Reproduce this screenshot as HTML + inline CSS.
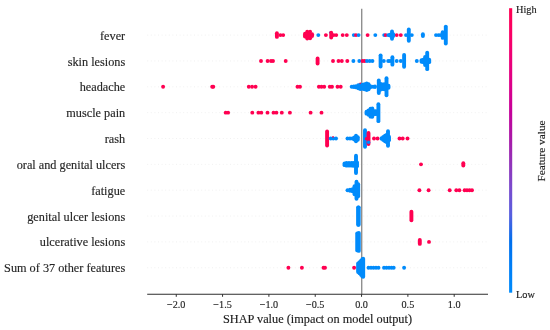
<!DOCTYPE html><html><head><meta charset="utf-8"><title>SHAP summary</title><style>
html,body{margin:0;padding:0;background:#fff}
#fig{position:relative;width:550px;height:330px;overflow:hidden;background:#fff;font-family:"Liberation Serif",serif;color:#1c1c1c;-webkit-text-stroke:0.15px #1c1c1c}
.yl{position:absolute;right:424.8px;white-space:nowrap;font-size:12.25px;line-height:16px;height:16px;color:#262626;-webkit-text-stroke:0.15px #262626}
.xt{position:absolute;width:40px;text-align:center;font-size:10.2px;line-height:12px;top:299.3px;color:#262626;-webkit-text-stroke:0.15px #262626}
.xl{position:absolute;left:147px;width:341px;text-align:center;font-size:12.3px;line-height:16px;top:310.5px;color:#1c1c1c;-webkit-text-stroke:0.15px #1c1c1c}
.cl{position:absolute;left:516px;font-size:10.3px;line-height:12px;color:#1c1c1c;-webkit-text-stroke:0.15px #1c1c1c}
.fv{position:absolute;left:540.6px;top:151.2px;width:0;height:0}
.fv span{position:absolute;white-space:nowrap;font-size:11.3px;line-height:12px;transform:translate(-50%,-50%) rotate(-90deg);color:#1c1c1c;-webkit-text-stroke:0.15px #1c1c1c}
</style></head><body><div id="fig">
<svg width="550" height="330" viewBox="0 0 550 330" style="position:absolute;left:0;top:0">
<defs><linearGradient id="cb" x1="0" y1="1" x2="0" y2="0">
<stop offset="0.0%" stop-color="#008bfb"/>
<stop offset="9.1%" stop-color="#007ef6"/>
<stop offset="18.2%" stop-color="#006fed"/>
<stop offset="27.3%" stop-color="#575fdf"/>
<stop offset="36.4%" stop-color="#794cce"/>
<stop offset="45.5%" stop-color="#9233b9"/>
<stop offset="54.5%" stop-color="#aa17a7"/>
<stop offset="63.6%" stop-color="#c5009a"/>
<stop offset="72.7%" stop-color="#db008a"/>
<stop offset="81.8%" stop-color="#ec0078"/>
<stop offset="90.9%" stop-color="#fa0065"/>
<stop offset="100.0%" stop-color="#ff0051"/>
</linearGradient></defs>
<line x1="147.2" x2="488" y1="35.10" y2="35.10" stroke="#e2e2e2" stroke-width="0.5" stroke-dasharray="1 2.6"/>
<line x1="147.2" x2="488" y1="60.95" y2="60.95" stroke="#e2e2e2" stroke-width="0.5" stroke-dasharray="1 2.6"/>
<line x1="147.2" x2="488" y1="86.80" y2="86.80" stroke="#e2e2e2" stroke-width="0.5" stroke-dasharray="1 2.6"/>
<line x1="147.2" x2="488" y1="112.65" y2="112.65" stroke="#e2e2e2" stroke-width="0.5" stroke-dasharray="1 2.6"/>
<line x1="147.2" x2="488" y1="138.50" y2="138.50" stroke="#e2e2e2" stroke-width="0.5" stroke-dasharray="1 2.6"/>
<line x1="147.2" x2="488" y1="164.35" y2="164.35" stroke="#e2e2e2" stroke-width="0.5" stroke-dasharray="1 2.6"/>
<line x1="147.2" x2="488" y1="190.20" y2="190.20" stroke="#e2e2e2" stroke-width="0.5" stroke-dasharray="1 2.6"/>
<line x1="147.2" x2="488" y1="216.05" y2="216.05" stroke="#e2e2e2" stroke-width="0.5" stroke-dasharray="1 2.6"/>
<line x1="147.2" x2="488" y1="241.90" y2="241.90" stroke="#e2e2e2" stroke-width="0.5" stroke-dasharray="1 2.6"/>
<line x1="147.2" x2="488" y1="267.75" y2="267.75" stroke="#e2e2e2" stroke-width="0.5" stroke-dasharray="1 2.6"/>
<line x1="361.70" x2="361.70" y1="8.7" y2="294.20" stroke="#8f8f8f" stroke-width="1.4"/>
<g stroke-linecap="round" stroke-width="3.90">
<line x1="276.9" x2="276.9" y1="33.30" y2="36.90" stroke="#ff0051"/>
<circle cx="280.4" cy="35.10" r="1.95" fill="#ff0051"/>
<circle cx="283.2" cy="35.10" r="1.95" fill="#ff0051"/>
<line x1="305.0" x2="305.0" y1="33.70" y2="36.50" stroke="#ff0051"/>
<circle cx="307.2" cy="31.70" r="1.95" fill="#ff0051"/>
<circle cx="307.2" cy="35.10" r="1.95" fill="#ff0051"/>
<circle cx="307.2" cy="38.50" r="1.95" fill="#ff0051"/>
<circle cx="310.1" cy="31.70" r="1.95" fill="#ff0051"/>
<circle cx="310.1" cy="35.10" r="1.95" fill="#ff0051"/>
<circle cx="310.1" cy="38.30" r="1.95" fill="#ff0051"/>
<line x1="308.6" x2="308.6" y1="33.10" y2="37.10" stroke="#ff0051"/>
<line x1="312.1" x2="312.1" y1="34.20" y2="36.00" stroke="#ff0051"/>
<circle cx="318.3" cy="35.10" r="1.95" fill="#008bfb"/>
<circle cx="325.9" cy="35.10" r="1.95" fill="#ff0051"/>
<circle cx="329.9" cy="32.50" r="1.00" fill="#008bfb"/>
<line x1="331.2" x2="331.2" y1="32.70" y2="37.50" stroke="#ff0051"/>
<circle cx="333.6" cy="35.10" r="1.95" fill="#ff0051"/>
<circle cx="336.2" cy="35.10" r="1.95" fill="#ff0051"/>
<circle cx="342.7" cy="35.10" r="1.95" fill="#ff0051"/>
<circle cx="346.8" cy="35.10" r="1.95" fill="#ff0051"/>
<circle cx="353.8" cy="35.10" r="1.95" fill="#008bfb"/>
<circle cx="356.0" cy="35.10" r="1.95" fill="#ff0051"/>
<circle cx="358.6" cy="35.10" r="1.95" fill="#008bfb"/>
<circle cx="367.6" cy="35.10" r="1.95" fill="#ff0051"/>
<circle cx="375.3" cy="35.10" r="1.95" fill="#008bfb"/>
<circle cx="384.2" cy="35.10" r="1.95" fill="#008bfb"/>
<circle cx="385.8" cy="35.10" r="1.95" fill="#ff0051"/>
<circle cx="388.3" cy="35.10" r="1.95" fill="#008bfb"/>
<line x1="390.0" x2="390.0" y1="34.60" y2="35.60" stroke="#008bfb"/>
<circle cx="396.7" cy="35.10" r="1.95" fill="#ff0051"/>
<circle cx="400.8" cy="35.10" r="1.95" fill="#ff0051"/>
<line x1="392.0" x2="392.0" y1="31.50" y2="38.70" stroke="#008bfb"/>
<line x1="393.2" x2="393.2" y1="34.10" y2="36.10" stroke="#008bfb"/>
<circle cx="406.0" cy="35.10" r="1.95" fill="#008bfb"/>
<line x1="408.8" x2="408.8" y1="29.50" y2="40.70" stroke="#008bfb"/>
<circle cx="411.8" cy="35.10" r="1.95" fill="#008bfb"/>
<line x1="422.9" x2="422.9" y1="34.20" y2="36.00" stroke="#008bfb"/>
<circle cx="436.0" cy="35.10" r="1.95" fill="#008bfb"/>
<circle cx="438.5" cy="35.10" r="1.95" fill="#008bfb"/>
<circle cx="440.5" cy="35.10" r="1.95" fill="#008bfb"/>
<line x1="442.7" x2="442.7" y1="32.30" y2="37.90" stroke="#008bfb"/>
<line x1="445.8" x2="445.8" y1="26.60" y2="43.60" stroke="#008bfb"/>
</g>
<g stroke-linecap="round" stroke-width="3.90">
<circle cx="261.0" cy="60.95" r="1.95" fill="#ff0051"/>
<circle cx="267.6" cy="60.95" r="1.95" fill="#ff0051"/>
<circle cx="271.0" cy="60.95" r="1.95" fill="#ff0051"/>
<circle cx="273.0" cy="60.95" r="1.95" fill="#ff0051"/>
<circle cx="285.7" cy="60.95" r="1.95" fill="#ff0051"/>
<line x1="317.6" x2="317.6" y1="58.45" y2="63.45" stroke="#ff0051"/>
<circle cx="333.0" cy="60.95" r="1.95" fill="#ff0051"/>
<circle cx="338.5" cy="60.95" r="1.95" fill="#ff0051"/>
<circle cx="341.8" cy="60.95" r="1.95" fill="#ff0051"/>
<circle cx="347.3" cy="60.95" r="1.95" fill="#ff0051"/>
<circle cx="353.4" cy="60.95" r="1.95" fill="#008bfb"/>
<circle cx="359.3" cy="60.95" r="1.95" fill="#008bfb"/>
<circle cx="362.5" cy="60.95" r="1.95" fill="#ff0051"/>
<circle cx="364.7" cy="60.95" r="1.95" fill="#ff0051"/>
<circle cx="367.0" cy="60.95" r="1.95" fill="#008bfb"/>
<circle cx="369.7" cy="60.95" r="1.95" fill="#008bfb"/>
<circle cx="372.4" cy="60.95" r="1.95" fill="#008bfb"/>
<line x1="380.6" x2="380.6" y1="55.35" y2="66.55" stroke="#008bfb"/>
<circle cx="383.8" cy="60.95" r="1.95" fill="#008bfb"/>
<circle cx="388.2" cy="60.95" r="1.95" fill="#008bfb"/>
<circle cx="390.0" cy="60.95" r="1.95" fill="#008bfb"/>
<line x1="392.4" x2="392.4" y1="57.25" y2="64.65" stroke="#008bfb"/>
<circle cx="396.7" cy="60.95" r="1.95" fill="#008bfb"/>
<circle cx="400.8" cy="60.95" r="1.95" fill="#008bfb"/>
<line x1="404.1" x2="404.1" y1="55.05" y2="66.85" stroke="#008bfb"/>
<circle cx="416.8" cy="60.95" r="1.95" fill="#008bfb"/>
<line x1="421.5" x2="421.5" y1="60.15" y2="61.75" stroke="#008bfb"/>
<line x1="423.3" x2="423.3" y1="59.75" y2="62.15" stroke="#008bfb"/>
<line x1="425.1" x2="425.1" y1="56.95" y2="64.95" stroke="#008bfb"/>
<line x1="427.2" x2="427.2" y1="52.75" y2="69.15" stroke="#008bfb"/>
<line x1="429.2" x2="429.2" y1="59.75" y2="62.15" stroke="#008bfb"/>
</g>
<g stroke-linecap="round" stroke-width="3.90">
<circle cx="163.1" cy="86.80" r="1.95" fill="#ff0051"/>
<circle cx="212.2" cy="86.80" r="1.95" fill="#ff0051"/>
<circle cx="213.3" cy="86.80" r="1.95" fill="#ff0051"/>
<circle cx="248.8" cy="86.80" r="1.95" fill="#ff0051"/>
<circle cx="252.1" cy="86.80" r="1.95" fill="#ff0051"/>
<circle cx="255.6" cy="86.80" r="1.95" fill="#ff0051"/>
<circle cx="297.5" cy="86.80" r="1.95" fill="#ff0051"/>
<circle cx="300.0" cy="86.80" r="1.95" fill="#ff0051"/>
<circle cx="318.9" cy="86.80" r="1.95" fill="#ff0051"/>
<circle cx="321.5" cy="86.80" r="1.95" fill="#ff0051"/>
<circle cx="324.2" cy="86.80" r="1.95" fill="#ff0051"/>
<circle cx="329.8" cy="86.80" r="1.95" fill="#ff0051"/>
<circle cx="332.0" cy="86.80" r="1.95" fill="#ff0051"/>
<circle cx="337.5" cy="86.80" r="1.95" fill="#ff0051"/>
<circle cx="340.7" cy="86.80" r="1.95" fill="#ff0051"/>
<circle cx="351.7" cy="86.80" r="1.95" fill="#008bfb"/>
<line x1="353.8" x2="353.8" y1="86.50" y2="87.10" stroke="#008bfb"/>
<line x1="356.0" x2="356.0" y1="86.20" y2="87.40" stroke="#008bfb"/>
<line x1="358.3" x2="358.3" y1="85.30" y2="88.30" stroke="#008bfb"/>
<line x1="360.3" x2="360.3" y1="84.60" y2="89.00" stroke="#008bfb"/>
<line x1="362.5" x2="362.5" y1="84.80" y2="88.80" stroke="#008bfb"/>
<line x1="364.5" x2="364.5" y1="84.30" y2="89.30" stroke="#008bfb"/>
<line x1="366.7" x2="366.7" y1="83.50" y2="90.10" stroke="#008bfb"/>
<line x1="368.6" x2="368.6" y1="84.30" y2="89.30" stroke="#008bfb"/>
<line x1="370.3" x2="370.3" y1="86.30" y2="87.30" stroke="#008bfb"/>
<circle cx="373.0" cy="86.80" r="1.95" fill="#008bfb"/>
<line x1="375.0" x2="375.0" y1="86.50" y2="87.10" stroke="#008bfb"/>
<line x1="378.8" x2="378.8" y1="80.50" y2="93.10" stroke="#008bfb"/>
<line x1="380.3" x2="380.3" y1="83.80" y2="89.80" stroke="#008bfb"/>
<line x1="382.5" x2="382.5" y1="84.50" y2="89.10" stroke="#008bfb"/>
<line x1="384.3" x2="384.3" y1="84.30" y2="89.30" stroke="#008bfb"/>
<line x1="386.5" x2="386.5" y1="78.30" y2="95.30" stroke="#008bfb"/>
<line x1="388.5" x2="388.5" y1="85.80" y2="87.80" stroke="#008bfb"/>
<circle cx="360.2" cy="83.20" r="0.80" fill="#ff0051"/>
</g>
<g stroke-linecap="round" stroke-width="3.90">
<circle cx="225.7" cy="112.65" r="1.95" fill="#ff0051"/>
<circle cx="228.1" cy="112.65" r="1.95" fill="#ff0051"/>
<circle cx="252.3" cy="112.65" r="1.95" fill="#ff0051"/>
<circle cx="258.4" cy="112.65" r="1.95" fill="#ff0051"/>
<circle cx="261.3" cy="112.65" r="1.95" fill="#ff0051"/>
<circle cx="267.5" cy="112.65" r="1.95" fill="#ff0051"/>
<circle cx="273.5" cy="112.65" r="1.95" fill="#ff0051"/>
<circle cx="276.4" cy="112.65" r="1.95" fill="#ff0051"/>
<circle cx="281.8" cy="112.65" r="1.95" fill="#ff0051"/>
<circle cx="289.9" cy="112.65" r="1.95" fill="#ff0051"/>
<circle cx="310.6" cy="112.65" r="1.95" fill="#ff0051"/>
<circle cx="321.5" cy="112.65" r="1.95" fill="#ff0051"/>
<line x1="366.5" x2="366.5" y1="111.65" y2="113.65" stroke="#008bfb"/>
<line x1="368.5" x2="368.5" y1="110.45" y2="114.85" stroke="#008bfb"/>
<line x1="370.5" x2="370.5" y1="108.65" y2="116.65" stroke="#008bfb"/>
<line x1="372.3" x2="372.3" y1="108.45" y2="116.85" stroke="#008bfb"/>
<line x1="374.3" x2="374.3" y1="111.15" y2="114.15" stroke="#008bfb"/>
<line x1="376.0" x2="376.0" y1="111.15" y2="114.15" stroke="#008bfb"/>
<line x1="378.4" x2="378.4" y1="104.15" y2="121.15" stroke="#008bfb"/>
</g>
<g stroke-linecap="round" stroke-width="3.90">
<line x1="327.1" x2="327.1" y1="131.40" y2="145.60" stroke="#ff0051"/>
<circle cx="330.7" cy="138.50" r="1.95" fill="#008bfb"/>
<circle cx="333.3" cy="138.50" r="1.95" fill="#008bfb"/>
<circle cx="336.0" cy="138.50" r="1.95" fill="#008bfb"/>
<circle cx="333.0" cy="136.90" r="0.80" fill="#ff0051"/>
<circle cx="347.5" cy="138.50" r="1.95" fill="#008bfb"/>
<circle cx="350.0" cy="138.50" r="1.95" fill="#008bfb"/>
<circle cx="352.3" cy="138.50" r="1.95" fill="#008bfb"/>
<line x1="354.3" x2="354.3" y1="137.50" y2="139.50" stroke="#008bfb"/>
<line x1="356.0" x2="356.0" y1="135.80" y2="141.20" stroke="#008bfb"/>
<line x1="357.8" x2="357.8" y1="137.30" y2="139.70" stroke="#008bfb"/>
<line x1="365.0" x2="365.0" y1="130.20" y2="146.80" stroke="#008bfb"/>
<line x1="368.5" x2="368.5" y1="133.00" y2="144.00" stroke="#ff0051"/>
<circle cx="366.3" cy="138.70" r="1.60" fill="#ff0051"/>
<circle cx="368.6" cy="142.30" r="1.70" fill="#008bfb"/>
<circle cx="374.0" cy="138.50" r="1.95" fill="#ff0051"/>
<circle cx="377.6" cy="138.50" r="1.95" fill="#ff0051"/>
<line x1="381.6" x2="381.6" y1="138.20" y2="138.80" stroke="#008bfb"/>
<line x1="383.3" x2="383.3" y1="137.00" y2="140.00" stroke="#008bfb"/>
<line x1="385.0" x2="385.0" y1="135.70" y2="141.30" stroke="#008bfb"/>
<line x1="386.5" x2="386.5" y1="135.00" y2="142.00" stroke="#008bfb"/>
<line x1="388.0" x2="388.0" y1="131.20" y2="145.80" stroke="#008bfb"/>
<line x1="389.0" x2="389.0" y1="136.70" y2="140.30" stroke="#008bfb"/>
<circle cx="399.5" cy="138.50" r="1.95" fill="#ff0051"/>
<circle cx="402.7" cy="138.50" r="1.95" fill="#ff0051"/>
<circle cx="407.5" cy="138.50" r="1.95" fill="#ff0051"/>
</g>
<g stroke-linecap="round" stroke-width="3.90">
<line x1="344.5" x2="344.5" y1="163.55" y2="165.15" stroke="#008bfb"/>
<line x1="346.5" x2="346.5" y1="163.05" y2="165.65" stroke="#008bfb"/>
<line x1="349.0" x2="349.0" y1="163.05" y2="165.65" stroke="#008bfb"/>
<line x1="351.5" x2="351.5" y1="163.05" y2="165.65" stroke="#008bfb"/>
<line x1="353.5" x2="353.5" y1="162.95" y2="165.75" stroke="#008bfb"/>
<line x1="356.0" x2="356.0" y1="155.75" y2="172.95" stroke="#008bfb"/>
<line x1="357.0" x2="357.0" y1="162.35" y2="166.35" stroke="#008bfb"/>
<circle cx="421.0" cy="164.35" r="1.95" fill="#ff0051"/>
<line x1="463.3" x2="463.3" y1="163.15" y2="165.55" stroke="#ff0051"/>
</g>
<g stroke-linecap="round" stroke-width="3.90">
<circle cx="347.5" cy="190.20" r="1.95" fill="#008bfb"/>
<line x1="350.0" x2="350.0" y1="189.70" y2="190.70" stroke="#008bfb"/>
<line x1="352.5" x2="352.5" y1="189.20" y2="191.20" stroke="#008bfb"/>
<line x1="354.5" x2="354.5" y1="186.20" y2="194.20" stroke="#008bfb"/>
<line x1="356.5" x2="356.5" y1="181.70" y2="198.70" stroke="#008bfb"/>
<line x1="358.2" x2="358.2" y1="184.20" y2="196.20" stroke="#008bfb"/>
<circle cx="419.4" cy="190.20" r="1.95" fill="#ff0051"/>
<circle cx="428.6" cy="190.20" r="1.95" fill="#ff0051"/>
<circle cx="449.7" cy="190.20" r="1.95" fill="#ff0051"/>
<circle cx="456.3" cy="190.20" r="1.95" fill="#ff0051"/>
<circle cx="459.4" cy="190.20" r="1.95" fill="#ff0051"/>
<circle cx="464.6" cy="190.20" r="1.95" fill="#ff0051"/>
<circle cx="467.0" cy="190.20" r="1.95" fill="#ff0051"/>
<circle cx="469.5" cy="190.20" r="1.95" fill="#ff0051"/>
<circle cx="472.0" cy="190.20" r="1.95" fill="#ff0051"/>
</g>
<g stroke-linecap="round" stroke-width="3.90">
<line x1="358.1" x2="358.1" y1="207.35" y2="224.75" stroke="#008bfb"/>
<line x1="358.7" x2="358.7" y1="207.35" y2="224.75" stroke="#008bfb"/>
<line x1="411.4" x2="411.4" y1="211.75" y2="220.35" stroke="#ff0051"/>
</g>
<g stroke-linecap="round" stroke-width="3.90">
<line x1="357.2" x2="357.2" y1="233.40" y2="250.40" stroke="#008bfb"/>
<line x1="358.8" x2="358.8" y1="232.90" y2="250.90" stroke="#008bfb"/>
<line x1="419.8" x2="419.8" y1="239.90" y2="243.90" stroke="#ff0051"/>
<circle cx="429.0" cy="241.90" r="1.95" fill="#ff0051"/>
</g>
<g stroke-linecap="round" stroke-width="3.90">
<circle cx="288.4" cy="267.75" r="1.95" fill="#ff0051"/>
<circle cx="301.9" cy="267.75" r="1.95" fill="#ff0051"/>
<circle cx="323.5" cy="267.75" r="1.95" fill="#ff0051"/>
<circle cx="325.0" cy="267.75" r="1.95" fill="#ff0051"/>
<circle cx="354.1" cy="267.75" r="1.95" fill="#ff0051"/>
<line x1="358.1" x2="358.1" y1="263.45" y2="272.05" stroke="#008bfb"/>
<line x1="359.5" x2="359.5" y1="262.15" y2="273.35" stroke="#008bfb"/>
<line x1="361.0" x2="361.0" y1="260.75" y2="274.75" stroke="#008bfb"/>
<line x1="362.3" x2="362.3" y1="259.15" y2="276.35" stroke="#008bfb"/>
<line x1="363.2" x2="363.2" y1="258.75" y2="276.75" stroke="#008bfb"/>
<circle cx="368.5" cy="267.75" r="1.95" fill="#008bfb"/>
<circle cx="371.0" cy="267.75" r="1.95" fill="#008bfb"/>
<circle cx="373.5" cy="267.75" r="1.95" fill="#008bfb"/>
<circle cx="376.0" cy="267.75" r="1.95" fill="#008bfb"/>
<circle cx="378.5" cy="267.75" r="1.95" fill="#008bfb"/>
<circle cx="384.0" cy="267.75" r="1.95" fill="#008bfb"/>
<circle cx="386.5" cy="267.75" r="1.95" fill="#008bfb"/>
<circle cx="389.0" cy="267.75" r="1.95" fill="#008bfb"/>
<circle cx="391.5" cy="267.75" r="1.95" fill="#008bfb"/>
<circle cx="393.7" cy="267.75" r="1.95" fill="#008bfb"/>
<circle cx="404.1" cy="267.75" r="1.95" fill="#008bfb"/>
</g>
<line x1="147.2" x2="488" y1="294.20" y2="294.20" stroke="#2e2e2e" stroke-width="1.1"/>
<line x1="176.25" x2="176.25" y1="294.20" y2="296.80" stroke="#2e2e2e" stroke-width="1"/>
<line x1="222.57" x2="222.57" y1="294.20" y2="296.80" stroke="#2e2e2e" stroke-width="1"/>
<line x1="268.90" x2="268.90" y1="294.20" y2="296.80" stroke="#2e2e2e" stroke-width="1"/>
<line x1="315.23" x2="315.23" y1="294.20" y2="296.80" stroke="#2e2e2e" stroke-width="1"/>
<line x1="361.55" x2="361.55" y1="294.20" y2="296.80" stroke="#2e2e2e" stroke-width="1"/>
<line x1="407.88" x2="407.88" y1="294.20" y2="296.80" stroke="#2e2e2e" stroke-width="1"/>
<line x1="454.20" x2="454.20" y1="294.20" y2="296.80" stroke="#2e2e2e" stroke-width="1"/>
<rect x="509.1" y="8.2" width="3.1" height="284.5" fill="url(#cb)"/>
</svg>
<div class="yl" style="top:27.6px">fever</div>
<div class="yl" style="top:53.5px">skin lesions</div>
<div class="yl" style="top:79.3px">headache</div>
<div class="yl" style="top:105.2px">muscle pain</div>
<div class="yl" style="top:131.0px">rash</div>
<div class="yl" style="top:156.8px">oral and genital ulcers</div>
<div class="yl" style="top:182.7px">fatigue</div>
<div class="yl" style="top:208.6px">genital ulcer lesions</div>
<div class="yl" style="top:234.4px">ulcerative lesions</div>
<div class="yl" style="top:260.2px">Sum of 37 other features</div>
<div class="xt" style="left:156.2px">−2.0</div>
<div class="xt" style="left:202.6px">−1.5</div>
<div class="xt" style="left:248.9px">−1.0</div>
<div class="xt" style="left:295.2px">−0.5</div>
<div class="xt" style="left:341.6px">0.0</div>
<div class="xt" style="left:387.9px">0.5</div>
<div class="xt" style="left:434.2px">1.0</div>
<div class="xl">SHAP value (impact on model output)</div>
<div class="cl" style="top:3.8px">High</div>
<div class="cl" style="top:288.7px">Low</div>
<div class="fv"><span>Feature value</span></div>
</div></body></html>
